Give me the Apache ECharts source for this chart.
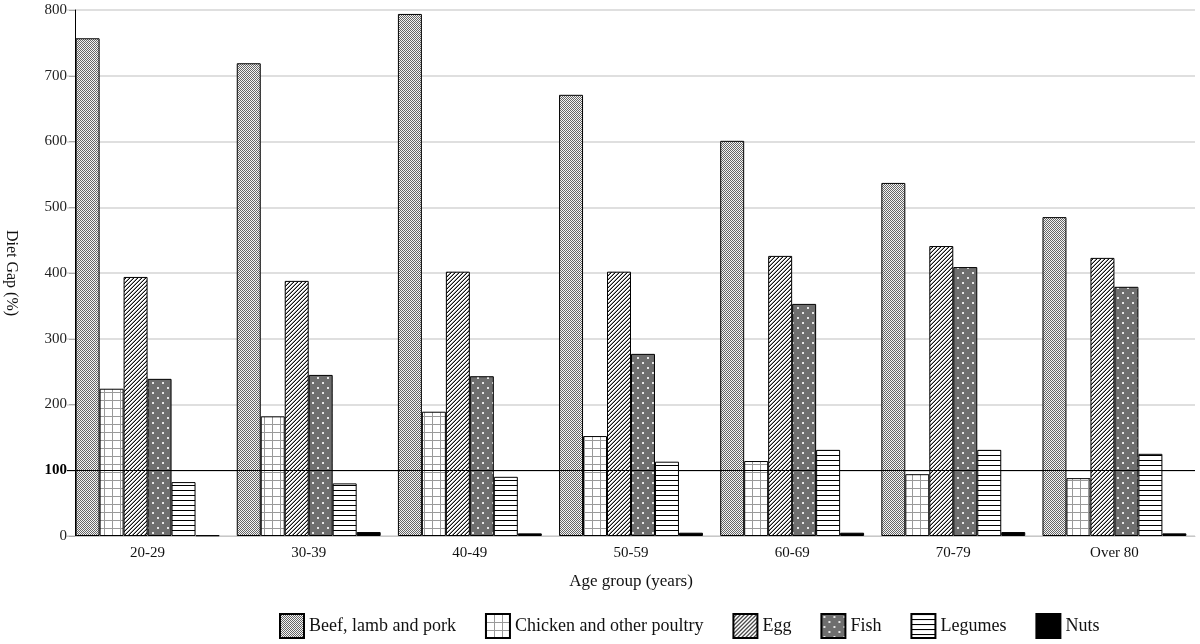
<!DOCTYPE html>
<html><head><meta charset="utf-8">
<script src="https://cdn.jsdelivr.net/npm/echarts@6/dist/echarts.min.js"></script>
<style>html,body{margin:0;padding:0;background:#fff}#c{width:1200px;height:644px}</style>
</head><body><div id="c"></div>
<script>
const categories = ['20-29', '30-39', '40-49', '50-59', '60-69', '70-79', 'Over 80'];
const seriesNames = ['Beef, lamb and pork', 'Chicken and other poultry', 'Egg', 'Fish', 'Legumes', 'Nuts'];
const beef     = [757, 719, 794, 671, 601, 537, 485];
const chicken  = [224, 182, 189, 152, 114, 94, 88];
const egg      = [394, 388, 402, 402, 426, 441, 423];
const fish     = [239, 245, 243, 277, 353, 409, 379];
const legumes  = [82, 80, 90, 113, 131, 131, 125];
const nuts     = [1, 6, 4, 5, 5, 6, 4];
const yMin = 0, yMax = 800, yStep = 100;
const refLine = 100;

const FONT = '"Liberation Serif", "Times New Roman", serif';

function pattern(w, h, draw) {
  const c = document.createElement('canvas');
  c.width = w; c.height = h;
  const ctx = c.getContext('2d');
  draw(ctx, w, h);
  return { image: c, repeat: 'repeat' };
}
const patBeef = pattern(2, 2, (g) => {
  g.fillStyle = '#f4f4f4'; g.fillRect(0, 0, 2, 2);
  g.fillStyle = '#666'; g.fillRect(0, 0, 1, 1); g.fillRect(1, 1, 1, 1);
});
const patChicken = pattern(8, 8, (g) => {
  g.fillStyle = '#fff'; g.fillRect(0, 0, 8, 8);
  g.fillStyle = '#9a9a9a'; g.fillRect(0, 0, 8, 1); g.fillRect(0, 0, 1, 8);
});
const patEgg = pattern(4, 4, (g) => {
  g.fillStyle = '#fff'; g.fillRect(0, 0, 4, 4);
  for (let x = 0; x < 4; x++) for (let y = 0; y < 4; y++) {
    const m = (x + y) % 4;
    if (m === 3) { g.fillStyle = '#111'; g.fillRect(x, y, 1, 1); }
    else if (m === 2) { g.fillStyle = '#999'; g.fillRect(x, y, 1, 1); }
  }
});
const patFish = pattern(10, 10, (g) => {
  g.fillStyle = '#6e6e6e'; g.fillRect(0, 0, 10, 10);
  g.fillStyle = '#e6e6e6'; g.fillRect(2, 2, 2, 2); g.fillRect(7, 7, 2, 2);
});
const patLegumes = pattern(5, 5, (g) => {
  g.fillStyle = '#fff'; g.fillRect(0, 0, 5, 5);
  g.fillStyle = '#000'; g.fillRect(0, 0, 5, 1);
});

const fills = [patBeef, patChicken, patEgg, patFish, patLegumes, '#000'];
const values = [beef, chicken, egg, fish, legumes, nuts];

const series = seriesNames.map((name, i) => {
  const s = {
    name: name,
    type: 'bar',
    data: values[i],
    barGap: 0,
    barCategoryGap: '10.7%',
    itemStyle: { color: fills[i], borderColor: '#000', borderWidth: 1 },
    emphasis: { disabled: true }
  };
  if (i === 5) {
    s.markLine = {
      silent: true,
      symbol: 'none',
      label: { show: false },
      lineStyle: { color: '#000', width: 1, type: 'solid' },
      data: [{ yAxis: refLine }]
    };
  }
  return s;
});

const chart = echarts.init(document.getElementById('c'));
chart.setOption({
  animation: false,
  backgroundColor: '#fff',
  grid: { left: 67, right: 5, top: 10, bottom: 108, containLabel: false, outerBoundsMode: 'none' },
  xAxis: {
    type: 'category',
    data: categories,
    name: 'Age group (years)',
    nameLocation: 'middle',
    nameGap: 37,
    nameTextStyle: { fontFamily: FONT, fontSize: 17, color: '#111' },
    axisLine: { lineStyle: { color: '#c8c8c8', width: 1 } },
    axisTick: { show: false },
    axisLabel: { fontFamily: FONT, fontSize: 15, color: '#111', margin: 10 }
  },
  yAxis: {
    type: 'value',
    min: yMin, max: yMax, interval: yStep,
    offset: -8,
    name: 'Diet Gap (%)',
    nameLocation: 'middle',
    nameRotate: -90,
    nameGap: 56,
    nameTextStyle: { fontFamily: FONT, fontSize: 16, color: '#111' },
    axisLine: { show: true, lineStyle: { color: '#000', width: 1 } },
    axisTick: { show: true, length: 6, lineStyle: { color: '#aaa' } },
    splitLine: { lineStyle: { color: '#d4d4d4', width: 1.5 } },
    axisLabel: {
      fontFamily: FONT, fontSize: 15, color: '#222', margin: 8,
      formatter: (v) => v === refLine ? '{b|' + v + '}' : String(v),
      rich: { b: { fontFamily: FONT, fontSize: 15, color: '#000', fontWeight: 'bold' } }
    }
  },
  legend: {
    data: seriesNames,
    left: 274, top: 608,
    icon: 'rect',
    itemWidth: 24, itemHeight: 24, itemGap: 29,
    selectedMode: false,
    textStyle: { fontFamily: FONT, fontSize: 18, color: '#111' }
  },
  series: series
});
</script>
</body></html>
